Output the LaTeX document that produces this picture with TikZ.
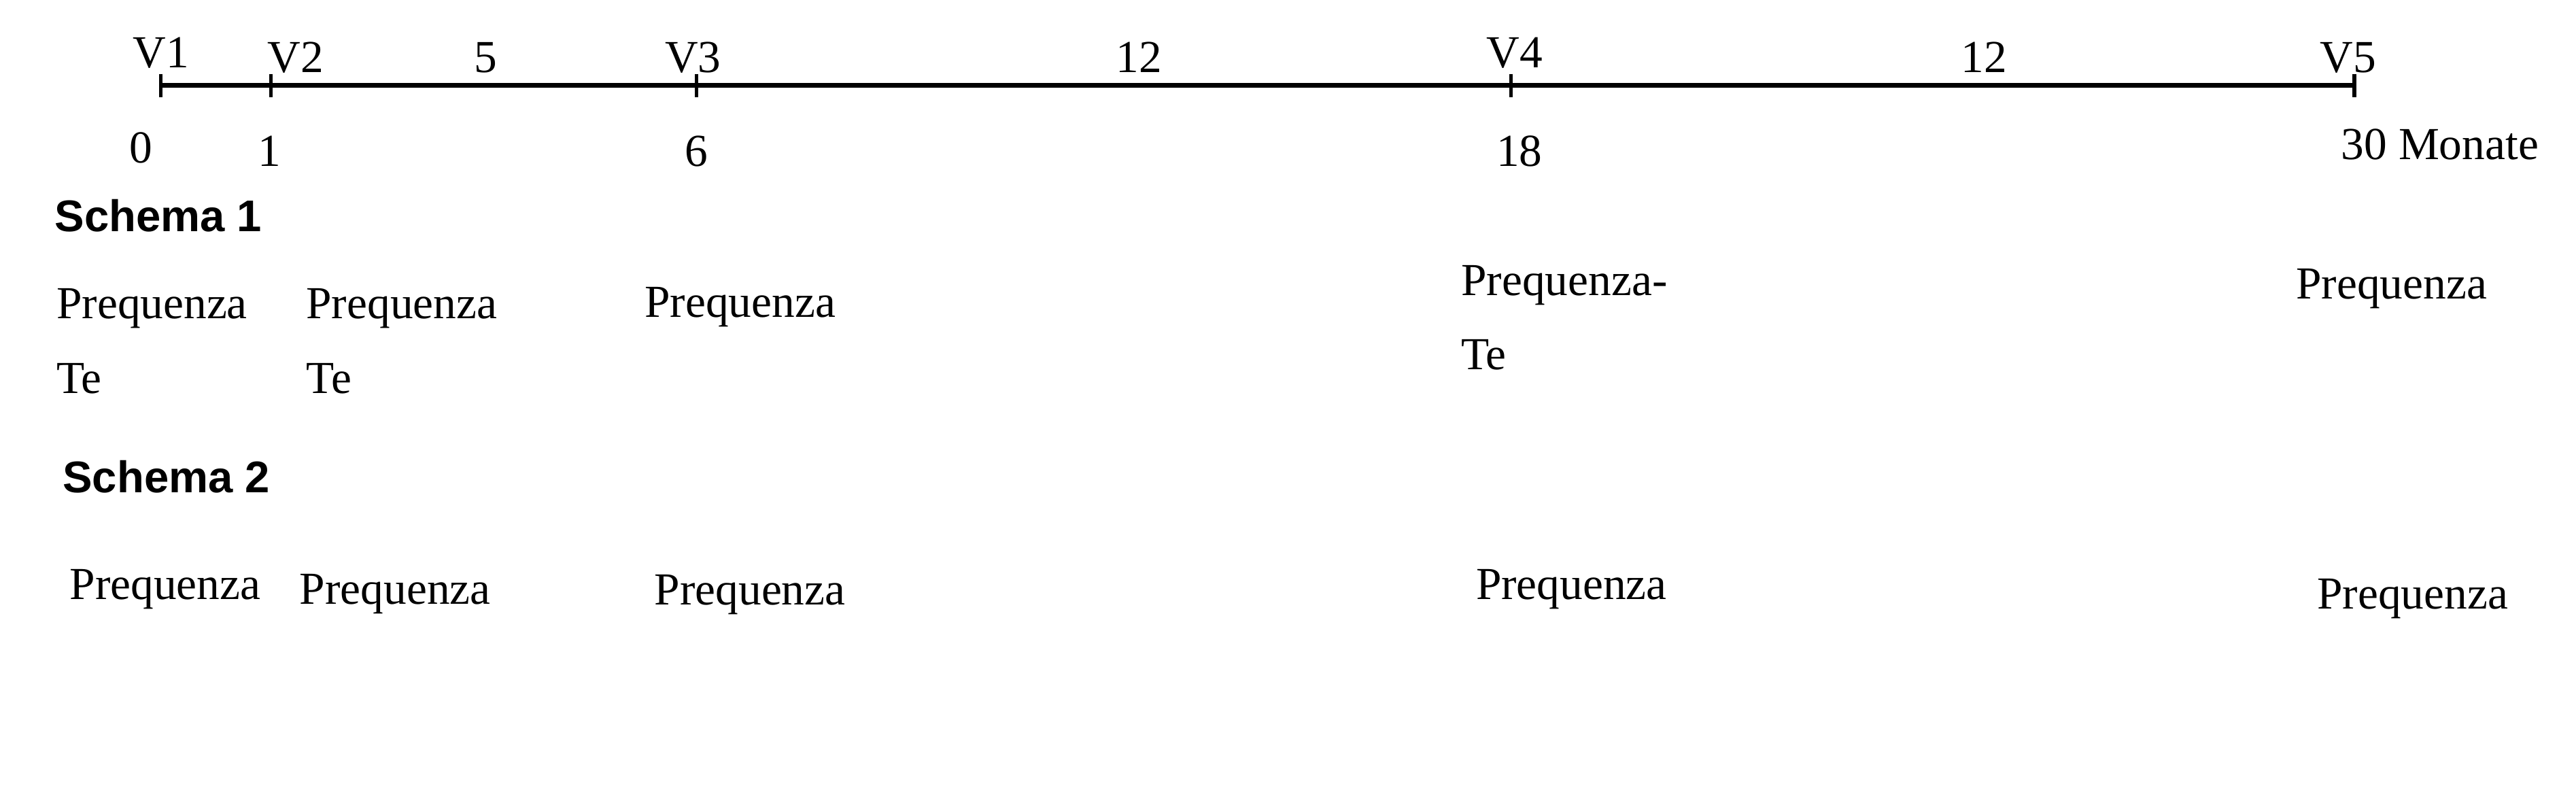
\documentclass[tikz,border=0pt]{standalone}
\usepackage{fontspec}
\setmainfont{Liberation Serif}
\setsansfont{Liberation Sans}
\begin{document}
\begin{tikzpicture}[
    lbl/.style={inner sep=0pt, font=\fontsize{12.4}{15}\selectfont},
    head/.style={inner sep=0pt, font=\fontsize{12}{14}\selectfont\sffamily\bfseries}
  ]
  \useasboundingbox (-1.531,0.8125) rectangle (22.969,-6.656);
  % time axis
  \foreach \n/\x in {1/0, 2/1.047, 3/5.094, 4/12.84, 5/20.86} {
    \coordinate (t\n) at (\x,0);
    \draw[line width=1pt] (\x,.11) -- (\x,-.11);
  }
  \draw[line width=1.4pt] (t1) -- (t5);
  \node[lbl, anchor=base] (v1) at (0,.17) {V1};
  \node[lbl, anchor=base] (v2) at (1.28,.125) {V2};
  \node[lbl, anchor=base] (d5) at (3.09,.125) {5};
  \node[lbl, anchor=base] (v3) at (5.06,.125) {V3};
  \node[lbl, anchor=base] (d12a) at (9.3,.125) {12};
  \node[lbl, anchor=base] (v4) at (12.875,.17) {V4};
  \node[lbl, anchor=base] (d12b) at (17.34,.125) {12};
  \node[lbl, anchor=base] (v5) at (20.8,.125) {V5};
  \node[lbl, anchor=base] (m0) at (-.1875,-.734) {0};
  \node[lbl, anchor=base] (m1) at (1.03,-.766) {1};
  \node[lbl, anchor=base] (m6) at (5.094,-.766) {6};
  \node[lbl, anchor=base] (m18) at (12.92,-.766) {18};
  \node[lbl, anchor=base west] (m30) at (20.73,-.703) {30 Monate};
  % Schema 1
  \node[head, anchor=base west] (sch1) at (-1.016,-1.39) {Schema 1};
  \node[lbl, anchor=base west] (s1a) at (-1,-2.219) {Prequenza};
  \node[lbl, anchor=base west] (s1b) at (1.375,-2.219) {Prequenza};
  \node[lbl, anchor=base west] (s1c) at (4.594,-2.203) {Prequenza};
  \node[lbl, anchor=base west] (s1d) at (12.36,-2) {Prequenza-};
  \node[lbl, anchor=base west] (s1e) at (20.3,-2.03) {Prequenza};
  \node[lbl, anchor=base west] (s1at) at ([yshift=-.71cm]s1a.base west) {Te};
  \node[lbl, anchor=base west] (s1bt) at ([yshift=-.71cm]s1b.base west) {Te};
  \node[lbl, anchor=base west] (s1dt) at ([yshift=-.7cm]s1d.base west) {Te};
  % Schema 2
  \node[head, anchor=base west] (sch2) at (-.94,-3.875) {Schema 2};
  \node[lbl, anchor=base west] (s2a) at (-.875,-4.89) {Prequenza};
  \node[lbl, anchor=base west] (s2b) at (1.3125,-4.93) {Prequenza};
  \node[lbl, anchor=base west] (s2c) at (4.6875,-4.94) {Prequenza};
  \node[lbl, anchor=base west] (s2d) at (12.5,-4.89) {Prequenza};
  \node[lbl, anchor=base west] (s2e) at (20.5,-4.98) {Prequenza};
\end{tikzpicture}
\end{document}
